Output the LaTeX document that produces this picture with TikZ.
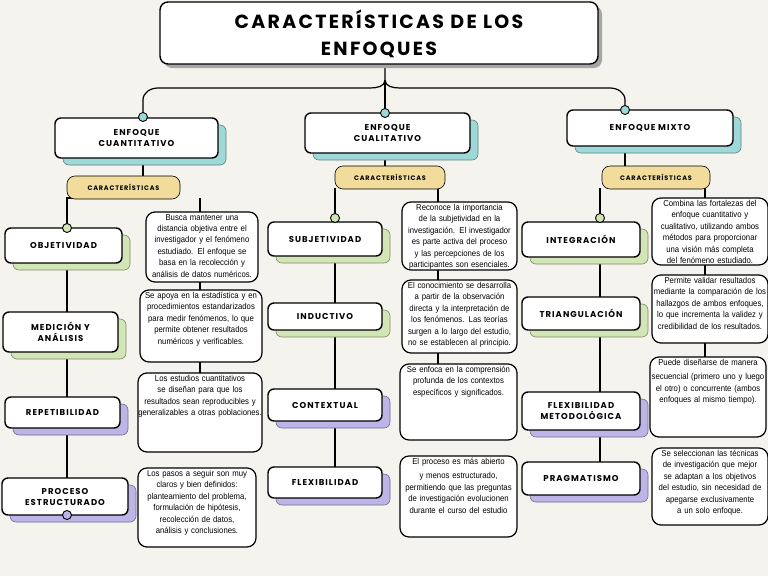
\documentclass[tikz,border=0pt]{standalone}
\usepackage{fontspec}
\setmainfont{Liberation Sans}
\newfontfamily\hand[LetterSpace=12]{Poppins}
\newfontfamily\narrow[FakeStretch=0.9]{Liberation Sans}
\newcommand{\descfont}{\narrow\fontsize{8.6}{11.4}\selectfont\hyphenpenalty10000\exhyphenpenalty10000\relax}
\definecolor{bg}{HTML}{F5F3EE}
\definecolor{teal}{HTML}{9ED9D8}
\definecolor{pill}{HTML}{F2DC9C}
\definecolor{grn}{HTML}{D2E6B5}
\definecolor{pur}{HTML}{BDB4E8}
\tikzset{
 box/.style={draw=black,line width=1.4pt,rounded corners=6pt,fill=white},
 lbl/.style={align=center,font=\hand\bfseries\fontsize{8.5}{11}\selectfont},
 dot/.style={circle,draw=black,line width=0.9pt,minimum size=9pt,inner sep=0pt},
 ln/.style={line width=1.2pt}
}
\newcommand{\shbox}[6]{% name, x1,y1,x2,y2, shadow color
 \fill[#6,rounded corners=6pt] (#2+8,#3+7) rectangle (#4+8,#5+7);
 \draw[#6!60!black,line width=0.6pt,rounded corners=6pt] (#2+8,#3+7) rectangle (#4+8,#5+7);
 \draw[box] (#2,#3) rectangle (#4,#5);
 \coordinate (#1) at ({(#2+#4)/2},{(#3+#5)/2});}
\begin{document}
\begin{tikzpicture}[x=1pt,y=-1pt]
\useasboundingbox (0,0) rectangle (768,576);
\fill[bg] (0,0) rectangle (768,576);
% trunk lines
\draw[ln] (385,64) -- (385,80) to[out=-90,in=0] (370,88) -- (158,88) to[out=180,in=90] (143,100) -- (143,117);
\draw[ln] (385,80) -- (385,113);
\draw[ln] (385,80) to[out=-90,in=180] (400,88) -- (610,88) to[out=0,in=90] (625,100) -- (625,110);
% column lines
\draw[ln] (143,158) -- (143,176);
\draw[ln] (123,198) -- (67,198) -- (67,515);
\draw[ln] (200,198) -- (200,452);
\draw[ln] (385,153) -- (385,166);
\draw[ln] (335,188) -- (335,498);
\draw[ln] (438,188) -- (438,440);
\draw[ln] (625,146) -- (625,166);
\draw[ln] (600,188) -- (600,495);
\draw[ln] (705,188) -- (705,437);
% title
\fill[black!35,rounded corners=8pt] (164,6) rectangle (602,68);
\draw[box,rounded corners=8pt] (160,2) rectangle (598,64);
\node[align=center,font=\hand\bfseries\fontsize{19}{27}\selectfont] (title) at (379,34) {CARACTERÍSTICAS DE LOS\\ENFOQUES};
% headers
\shbox{h1}{55}{118}{218}{158}{teal}
\node[lbl] (h1t) at (h1) {ENFOQUE\\CUANTITATIVO};
\shbox{h2}{305}{113}{470}{153}{teal}
\node[lbl] (h2t) at (h2) {ENFOQUE\\CUALITATIVO};
\shbox{h3}{567}{110}{733}{146}{teal}
\node[lbl] (h3t) at (h3) {ENFOQUE MIXTO};
\node[dot,fill=teal] (d1) at (143,117) {};
\node[dot,fill=teal] (d2) at (385,113) {};
\node[dot,fill=teal] (d3) at (625,110) {};
% pills
\foreach \n/\xa/\ya/\xb/\yb in {p1/67/176/180/199, p2/335/166/445/189, p3/602/166/710/189}{
 \draw[fill=pill,line width=0.6pt,rounded corners=8pt] (\xa,\ya) rectangle (\xb,\yb);
 \node[align=center,font=\hand\bfseries\fontsize{6.5}{8}\selectfont] (\n) at ({(\xa+\xb)/2},{(\ya+\yb)/2}) {CARACTERÍSTICAS};}
% left names
\shbox{a1}{5}{228}{122}{263}{grn}
\node[lbl] (a1t) at (a1) {OBJETIVIDAD};
\shbox{a2}{3}{312}{118}{352}{grn}
\node[lbl] (a2t) at (a2) {MEDICIÓN Y\\ANÁLISIS};
\shbox{a3}{5}{397}{120}{428}{pur}
\node[lbl] (a3t) at (a3) {REPETIBILIDAD};
\shbox{a4}{2}{478}{128}{515}{pur}
\node[lbl] (a4t) at (a4) {PROCESO\\ESTRUCTURADO};
\node[dot,fill=grn] (g1) at (67,228) {};
\node[dot,fill=pur] (q1) at (67,515) {};
% middle names
\shbox{b1}{268}{222}{382}{256}{grn}
\node[lbl] (b1t) at (b1) {SUBJETIVIDAD};
\shbox{b2}{268}{303}{382}{330}{grn}
\node[lbl] (b2t) at (b2) {INDUCTIVO};
\shbox{b3}{268}{389}{382}{421}{pur}
\node[lbl] (b3t) at (b3) {CONTEXTUAL};
\shbox{b4}{268}{467}{382}{498}{pur}
\node[lbl] (b4t) at (b4) {FLEXIBILIDAD};
\node[dot,fill=grn] (g2) at (335,218) {};
% right names
\shbox{c1}{522}{222}{640}{257}{grn}
\node[lbl] (c1t) at (c1) {INTEGRACIÓN};
\shbox{c2}{522}{297}{640}{330}{grn}
\node[lbl] (c2t) at (c2) {TRIANGULACIÓN};
\shbox{c3}{522}{392}{640}{430}{pur}
\node[lbl] (c3t) at (c3) {FLEXIBILIDAD\\METODOLÓGICA};
\shbox{c4}{522}{462}{640}{495}{pur}
\node[lbl] (c4t) at (c4) {PRAGMATISMO};
\node[dot,fill=grn] (g3) at (600,218) {};
% descriptions
\newcommand{\dbox}[6]{\draw[box,rounded corners=9pt,line width=1.2pt] (#2,#3) rectangle (#4,#5);
 \node[align=center,font=\descfont,text width={#4-#2},inner sep=0pt,anchor=north] (#1) at ({(#2+#4)/2},#3+2) {#6};}
\dbox{e1}{146}{212}{258}{282}{Busca mantener una distancia objetiva entre el investigador y el fenómeno estudiado. El enfoque se basa en la recolección y análisis de datos numéricos.}
\dbox{e2}{140}{290}{262}{362}{Se apoya en la estadística y en procedimientos estandarizados para medir fenómenos, lo que permite obtener resultados numéricos y verificables.}
\dbox{e3}{138}{373}{262}{452}{Los estudios cuantitativos se diseñan para que los resultados sean reproducibles y generalizables a otras poblaciones.}
\dbox{e4}{138}{468}{256}{547}{Los pasos a seguir son muy claros y bien definidos: planteamiento del problema, formulación de hipótesis, recolección de datos, análisis y conclusiones.}
\dbox{f1}{402}{202}{517}{270}{Reconoce la importancia de la subjetividad en la investigación. El investigador es parte activa del proceso y las percepciones de los participantes son esenciales.}
\dbox{f2}{402}{280}{517}{353}{El conocimiento se desarrolla a partir de la observación directa y la interpretación de los fenómenos. Las teorías surgen a lo largo del estudio, no se establecen al principio.}
\dbox{f3}{400}{364}{517}{440}{Se enfoca en la comprensión profunda de los contextos específicos y significados.}
\dbox{f4}{400}{456}{517}{537}{\vspace{3pt}El proceso es más abierto y menos estructurado, permitiendo que las preguntas de investigación evolucionen durante el curso del estudio}
\dbox{k1}{652}{198}{768}{265}{Combina las fortalezas del enfoque cuantitativo y cualitativo, utilizando ambos métodos para proporcionar una visión más completa del fenómeno estudiado.}
\dbox{k2}{652}{275}{768}{343}{Permite validar resultados mediante la comparación de los hallazgos de ambos enfoques, lo que incrementa la validez y credibilidad de los resultados.}
\dbox{k3}{650}{357}{766}{437}{\vspace{3pt}Puede diseñarse de manera secuencial (primero uno y luego el otro) o concurrente (ambos enfoques al mismo tiempo).}
\dbox{k4}{652}{448}{768}{525}{Se seleccionan las técnicas de investigación que mejor se adaptan a los objetivos del estudio, sin necesidad de apegarse exclusivamente a un solo enfoque.}
\end{tikzpicture}
\end{document}
